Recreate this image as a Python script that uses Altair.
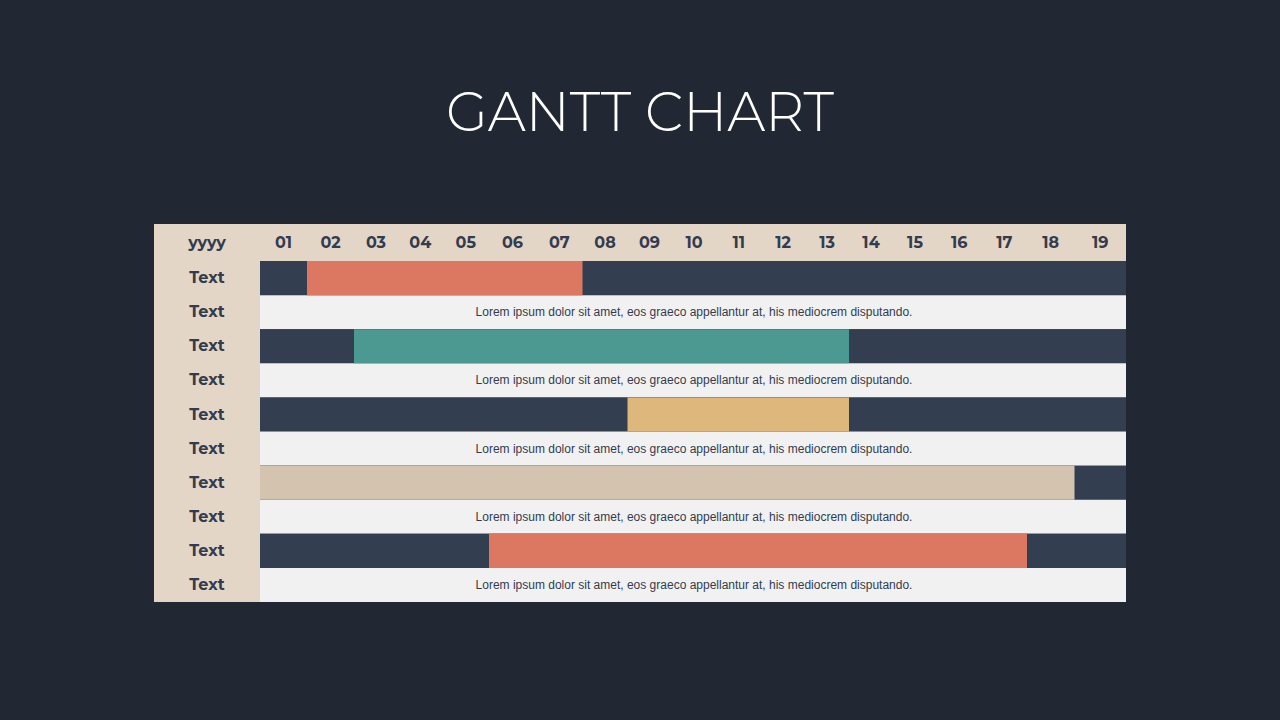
import altair as alt
import pandas as pd

# Palette
BG = "#222734"
BEIGE = "#e3d6c6"
DARK = "#343e51"
LIGHT = "#f1f1f1"
INK = "#333c4e"

# Timeline columns and row labels
columns = ["01", "02", "03", "04", "05", "06", "07", "08", "09", "10",
           "11", "12", "13", "14", "15", "16", "17", "18", "19"]
row_labels = ["Text"] * 10
year_label = "yyyy"
note = "Lorem ipsum dolor sit amet, eos graeco appellantur at, his mediocrem disputando."

# Tasks: row index, start column, end column, colour
task_rows = [0, 2, 4, 6, 8]
task_start = [1, 2, 8, 0, 5]
task_end = [7, 13, 13, 18, 17]
task_color = ["#dc7762", "#4b9991", "#ddb77c", "#d4c3ae", "#dc7762"]

N = len(columns)
HEAD_H = 1.088     # header height, in row units
NROWS = len(row_labels)

# Column boundaries (label column spans -1..0, then one unit per period)
col_edges_px = [0, 106, 153, 200, 244, 288.5, 335, 382, 428.5, 473.5, 517.5,
                562.5, 607, 651, 695, 739, 783, 827.5, 873, 920.5, 972]
xs = alt.Scale(type="linear", domain=list(range(-1, N + 1)),
               range=col_edges_px, nice=False, zero=False, clamp=False)
ys = alt.Scale(domain=[-HEAD_H, NROWS], nice=False, zero=False, reverse=True)
X = lambda f: alt.X(f, type="quantitative", scale=xs, axis=None)
Y = lambda f: alt.Y(f, type="quantitative", scale=ys, axis=None)

# Frame: label column + header strip
frame = pd.DataFrame({
    "x0": [-1, 0], "x1": [0, N],
    "y0": [-HEAD_H, -HEAD_H], "y1": [NROWS, 0],
})
frame_layer = alt.Chart(frame).mark_rect(color=BEIGE).encode(
    x=X("x0"), x2="x1", y=Y("y0"), y2="y1")

# Row backgrounds
rows = pd.DataFrame({
    "r": list(range(NROWS)),
    "r1": [i + 1 for i in range(NROWS)],
    "fill": [DARK if i % 2 == 0 else LIGHT for i in range(NROWS)],
    "x0": [0] * NROWS, "x1": [N] * NROWS,
})
row_layer = alt.Chart(rows).mark_rect().encode(
    x=X("x0"), x2="x1", y=Y("r"), y2="r1",
    color=alt.Color("fill:N", scale=None))

# Task bars
tasks = pd.DataFrame({
    "r": task_rows, "r1": [r + 1 for r in task_rows],
    "s": task_start, "e": task_end, "c": task_color,
})
task_layer = alt.Chart(tasks).mark_rect().encode(
    x=X("s"), x2="e", y=Y("r"), y2="r1",
    color=alt.Color("c:N", scale=None))

# Header numbers
head = pd.DataFrame({"lab": columns,
                     "x": [i + 0.5 for i in range(N)],
                     "y": [-HEAD_H / 2] * N})
head_layer = alt.Chart(head).mark_text(
    font="Montserrat, Lato", fontWeight="bold", fontSize=16, color=INK,
    baseline="middle").encode(x=X("x"), y=Y("y"), text="lab:N")

# Left labels
left = pd.DataFrame({
    "lab": [year_label] + row_labels,
    "x": [-0.5] * (NROWS + 1),
    "y": [-HEAD_H / 2] + [i + 0.5 for i in range(NROWS)],
})
left_layer = alt.Chart(left).mark_text(
    font="Montserrat, Lato", fontWeight="bold", fontSize=16, color=INK,
    baseline="middle").encode(x=X("x"), y=Y("y"), text="lab:N")

# Notes in the light rows
notes = pd.DataFrame({
    "lab": [note] * 5,
    "x": [9.5] * 5,
    "y": [i + 0.5 for i in range(1, NROWS, 2)],
})
note_layer = alt.Chart(notes).mark_text(
    font="Liberation Sans, Arial", fontSize=12, color=INK,
    baseline="middle").encode(x=X("x"), y=Y("y"), text="lab:N")

chart = alt.layer(
    frame_layer, row_layer, task_layer, head_layer, left_layer, note_layer
).properties(
    width=972, height=378,
    title=alt.TitleParams(
        "GANTT CHART", color="white", fontSize=54, font="Montserrat, Lato",
        fontWeight=300, anchor="middle", offset=82),
    autosize=alt.AutoSizeParams(type="none"),
    padding={"left": 154, "top": 224, "right": 154, "bottom": 118},
    background=BG,
).configure_view(stroke=None)

chart.save("out.html", embed_options={"renderer": "svg", "actions": False})
